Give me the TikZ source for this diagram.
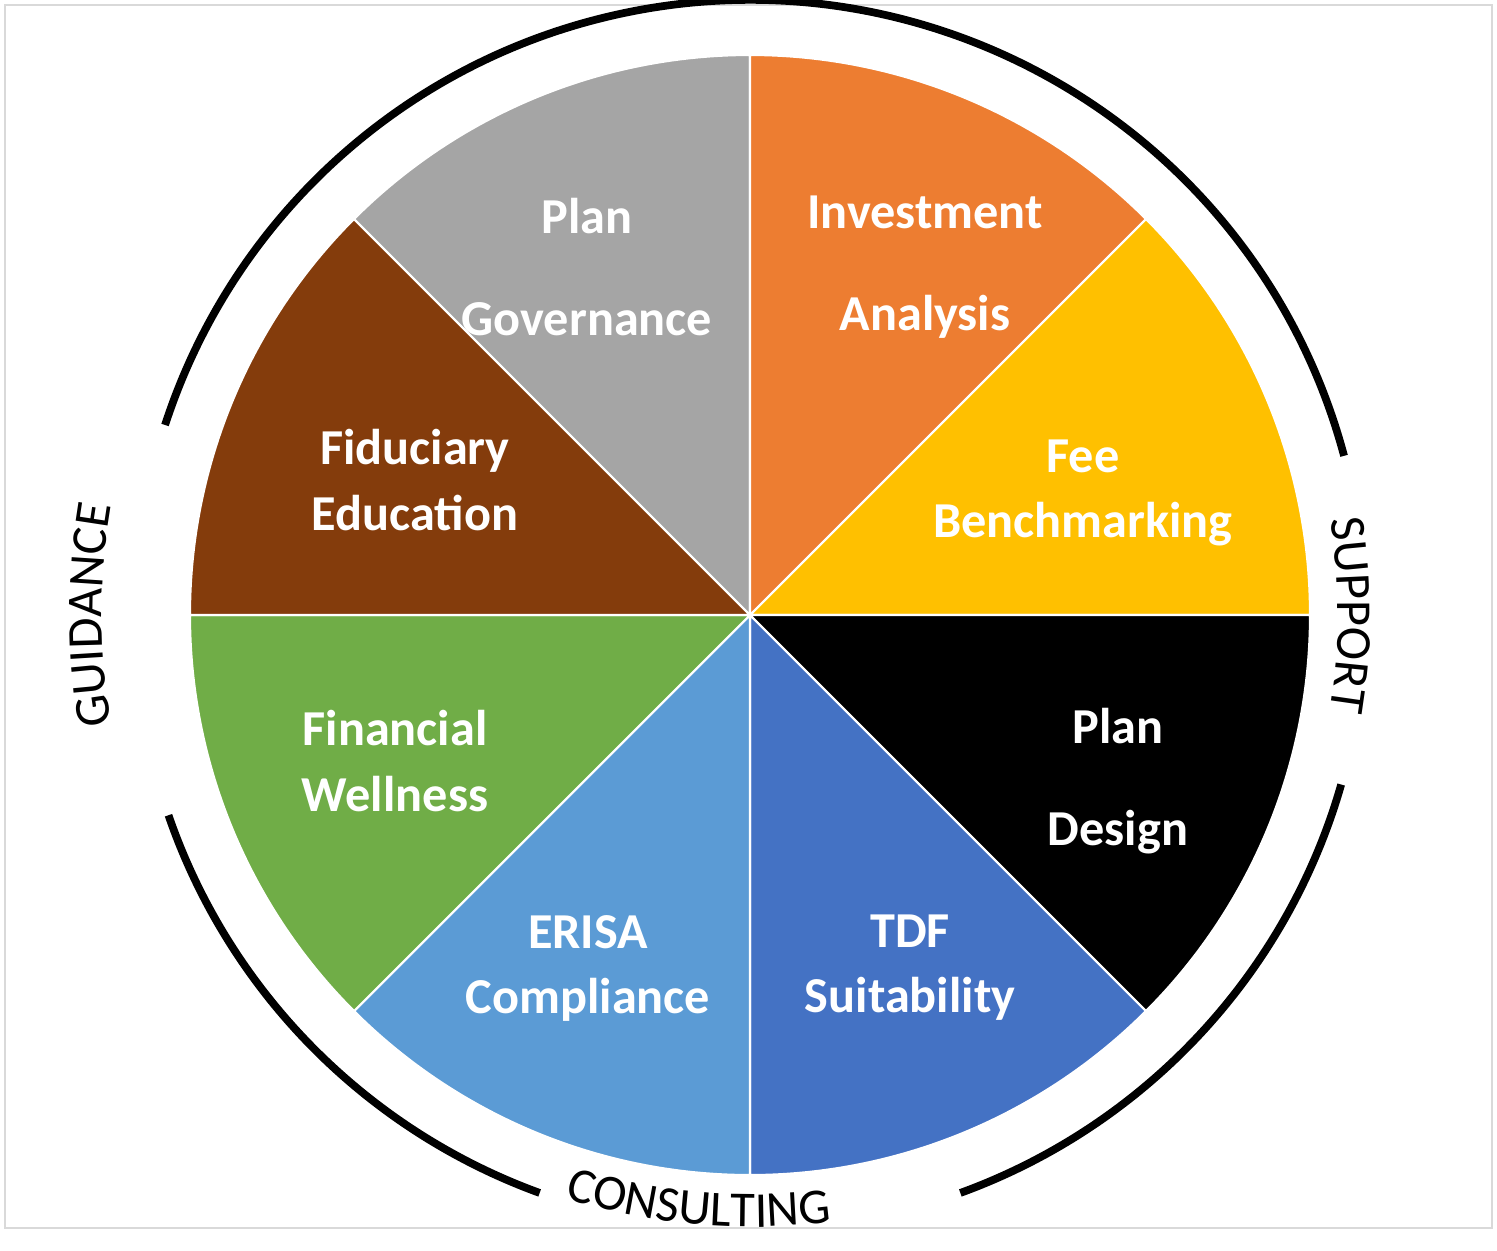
\documentclass[tikz,border=0pt]{standalone}
\usepackage{fontspec}
\setmainfont{Carlito}
\usetikzlibrary{decorations.text}
\definecolor{pgray}{HTML}{A5A5A5}
\definecolor{porange}{HTML}{ED7D31}
\definecolor{pyellow}{HTML}{FFC000}
\definecolor{pblue}{HTML}{4472C4}
\definecolor{plblue}{HTML}{5B9BD5}
\definecolor{pgreen}{HTML}{70AD47}
\definecolor{pbrown}{HTML}{843C0C}
\begin{document}
\begin{tikzpicture}[x=0.01cm,y=0.01cm]
\tikzset{ sector/.style={fill=#1, draw=white, line width=0.6pt},
  lab/.style={text=white, align=center, font=\fontsize{14.3}{#1}\selectfont\bfseries},
  ring/.style={line width=2.2pt, black},
  curved/.style={decorate, decoration={text along path, text align=center,
    text={|\fontsize{14.3}{14}\selectfont|#1}}} }

\useasboundingbox (-750,615) rectangle (747,-635);
\draw [gray!30, line width=0.8pt] (-745,610) rectangle (742,-613);

\coordinate (O) at (0,0);

% pie
\foreach \a/\c in {90/pgray, 45/porange, 0/pyellow, -45/black,
                   -90/pblue, -135/plblue, 180/pgreen, 135/pbrown}
  \draw [sector=\c] (O) -- ++(\a:560) arc[start angle=\a, delta angle=45, radius=560] -- cycle;

% outer ring
\draw [ring] (O) ++(15:615) arc[start angle=15, end angle=162, radius=615];
\draw [ring] (O) ++(-16:615) arc[start angle=-16, end angle=-70, radius=615];
\draw [ring] (O) ++(199:615) arc[start angle=199, end angle=250, radius=615];

\path [curved=GUIDANCE] (O) ++(205:648) arc[start angle=205, end angle=155, radius=648];
\path [curved=SUPPORT] (O) ++(25:588) arc[start angle=25, end angle=-25, radius=588];
\path [curved=CONSULTING] (O) ++(240:612) arc[start angle=240, end angle=290, radius=612];

% labels
\node [lab=29pt] (gov) at (-163,348) {Plan\\Governance};
\node [lab=29pt] (inv) at (175,348) {Investment\\Analysis};
\node [lab=18.5pt] (fee) at (333,122) {Fee\\Benchmarking};
\node [lab=18.5pt] (fid) at (-335,135) {Fiduciary\\Education};
\node [lab=18.5pt] (fin) at (-355,-146) {Financial\\Wellness};
\node [lab=18.5pt] (eri) at (-162,-353) {ERISA\\Compliance};
\node [lab=18.5pt] (tdf) at (160,-353) {TDF\\Suitability};
\node [lab=29pt] (des) at (368,-166) {Plan\\Design};

\end{tikzpicture}
\end{document}
